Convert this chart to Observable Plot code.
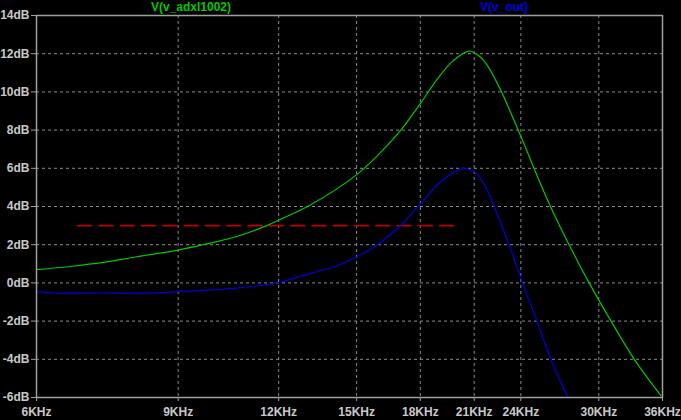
<!DOCTYPE html>
<html>
<head>
<meta charset="utf-8">
<script src="https://cdn.jsdelivr.net/npm/d3@7"></script>
<script src="https://cdn.jsdelivr.net/npm/@observablehq/plot@0.6"></script>
<style>
  html, body { margin: 0; padding: 0; background: #000; }
  #chart svg { display: block; }
</style>
</head>
<body>
<div id="chart"></div>
<script>
// Trace names
const traceNames = ["V(v_adxl1002)", "V(v_out)"];
const traceColors = ["#00c800", "#0000e0"];

// V(v_adxl1002) (green)
const adxlFreq = [6000, 6601, 7264, 7990, 9004, 9673, 10640, 11596, 12011, 13153, 15005, 15922, 17021, 17989, 18907, 19738, 20698, 21404, 21818, 22666, 24120, 25294, 26158, 27565, 29191, 31061, 33206, 35847];
const adxlDb   = [0.70, 0.86, 1.07, 1.37, 1.72, 2.00, 2.43, 3.00, 3.29, 4.09, 5.67, 6.66, 8.00, 9.37, 10.68, 11.60, 12.14, 11.80, 11.38, 10.07, 7.45, 5.35, 3.95, 1.98, -0.01, -1.99, -4.00, -5.90];

// V(v_out) (blue)
const outFreq = [6000, 6294, 7264, 8382, 9004, 9857, 10640, 11596, 12011, 13153, 14198, 15005, 15922, 17021, 17989, 18907, 19738, 20405, 20998, 21607, 22237, 23212, 24120, 25130, 26158, 27439];
const outDb   = [-0.46, -0.53, -0.53, -0.53, -0.46, -0.37, -0.27, -0.09, 0.02, 0.50, 0.90, 1.37, 2.00, 3.03, 4.13, 5.14, 5.76, 6.00, 5.82, 5.18, 4.00, 1.98, -0.01, -2.00, -4.00, -6.00];

// 3dB reference line (red dashed)
const refFreq = [6750, 19850];
const refDb = [3, 3];

// Axis ticks
const freqTicks = [6000, 9000, 12000, 15000, 18000, 21000, 24000, 30000, 36000];
const dbTicks = [-6, -4, -2, 0, 2, 4, 6, 8, 10, 12, 14];

const adxl = adxlFreq.map((f, i) => ({f, db: adxlDb[i]}));
const vout = outFreq.map((f, i) => ({f, db: outDb[i]}));
const ref = refFreq.map((f, i) => ({f, db: refDb[i]}));

const font = "'Liberation Sans', Arial, sans-serif";

const chart = Plot.plot({
  width: 681,
  height: 420,
  marginLeft: 36,
  marginRight: 19,
  marginTop: 15,
  marginBottom: 23,
  style: {background: "#000", color: "#c8c8c8", fontFamily: font, fontSize: "12px", fontWeight: "bold"},
  x: {type: "log", domain: [6000, 36000]},
  y: {domain: [-6, 14]},
  marks: [
    Plot.gridX(freqTicks, {stroke: "#8a8a8a", strokeOpacity: 1, strokeDasharray: "3,3"}),
    Plot.gridY(dbTicks, {stroke: "#8a8a8a", strokeOpacity: 1, strokeDasharray: "3,3"}),
    Plot.axisX(freqTicks, {tickSize: 4, tickPadding: 6, stroke: "#a0a0a0", fill: "#c8c8c8",
      tickFormat: d => (d / 1000) + "KHz", label: null, fontWeight: "bold"}),
    Plot.axisY(dbTicks, {tickSize: 5, tickPadding: 2, stroke: "#a0a0a0", fill: "#c8c8c8",
      tickFormat: d => d + "dB", label: null, fontWeight: "bold"}),
    Plot.line(ref, {x: "f", y: "db", stroke: "#c00000", strokeWidth: 1.6, strokeDasharray: "14,7.3"}),
    Plot.line(vout, {x: "f", y: "db", stroke: traceColors[1], strokeWidth: 1.2, curve: "catmull-rom", clip: true}),
    Plot.line(adxl, {x: "f", y: "db", stroke: traceColors[0], strokeWidth: 1.2, curve: "catmull-rom", clip: true}),
    Plot.frame({stroke: "#a0a0a0", strokeWidth: 1.5})
  ]
});

const svg = d3.select(chart);
const labelX = [191, 504];
traceNames.forEach((name, i) => {
  svg.append("text")
    .attr("x", labelX[i])
    .attr("y", 11)
    .attr("text-anchor", "middle")
    .attr("fill", traceColors[i])
    .attr("font-family", font)
    .attr("font-size", "12px")
    .attr("font-weight", "bold")
    .text(name);
});

document.getElementById("chart").appendChild(chart);
</script>
</body>
</html>
